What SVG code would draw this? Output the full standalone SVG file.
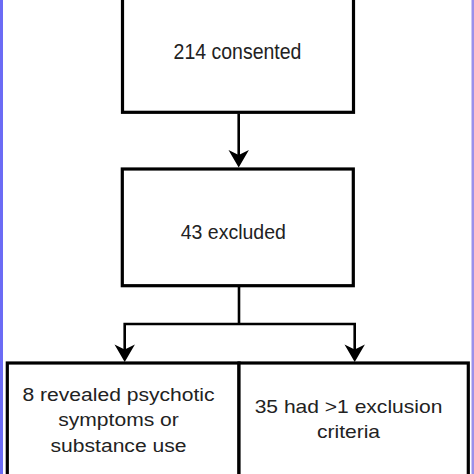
<svg xmlns="http://www.w3.org/2000/svg" width="474" height="474" viewBox="0 0 474 474">
<style>
.box{fill:#fff;stroke:#000;stroke-width:3.2}
.ln{fill:none;stroke:#000;stroke-width:2.6}
.hd{fill:#000}
.t{font-family:"Liberation Sans",Arial,sans-serif;font-size:19.5px;fill:#222;text-anchor:middle}
</style>
<rect x="0" y="0" width="474" height="474" fill="#fff"/>
<rect x="0" y="0" width="3" height="474" fill="#6b6bf5"/>
<rect x="471.5" y="0" width="2.5" height="474" fill="#9b90ea"/>
<g id="n1">
<rect class="box" x="122.5" y="-10" width="231" height="122.3"/>
<g transform="translate(237.5,59) scale(1,1.12)">
<text class="t" x="0" y="0">214 consented</text>
</g>
</g>
<g id="n2">
<rect class="box" x="122.3" y="169" width="231" height="116.7"/>
<text class="t" x="233.3" y="239.3">43 excluded</text>
</g>
<g id="n3">
<rect class="box" x="7.3" y="363" width="231.7" height="130"/>
<g transform="translate(118.5,0) scale(1.14,1)">
<text class="t" style="font-size:18.5px" x="0" y="401">8 revealed psychotic</text>
<text class="t" style="font-size:18.5px" x="0" y="426.5">symptoms or</text>
<text class="t" style="font-size:18.5px" x="0" y="451.8">substance use</text>
</g>
</g>
<g id="n4">
<rect class="box" x="239" y="363" width="229.3" height="130"/>
<g transform="translate(348.5,0) scale(1.12,1)">
<text class="t" style="font-size:18.8px" x="0" y="413.3">35 had &gt;1 exclusion</text>
<text class="t" style="font-size:18.8px" x="0" y="438.3">criteria</text>
</g>
</g>
<g id="connectors">
<path class="ln" d="M238.7 113.5 V156"/>
<path class="hd" d="M238.7 167.5 L228.5 150 L238.7 155 L248.9 150 Z"/>
<path class="ln" d="M239 287 V324 M124.7 324 H354.7 M124.7 322.7 V351 M354.7 322.7 V351"/>
<path class="hd" d="M124.7 362 L114.5 344.5 L124.7 349.5 L134.9 344.5 Z"/>
<path class="hd" d="M354.7 362 L344.5 344.5 L354.7 349.5 L364.9 344.5 Z"/>
</g>
</svg>
